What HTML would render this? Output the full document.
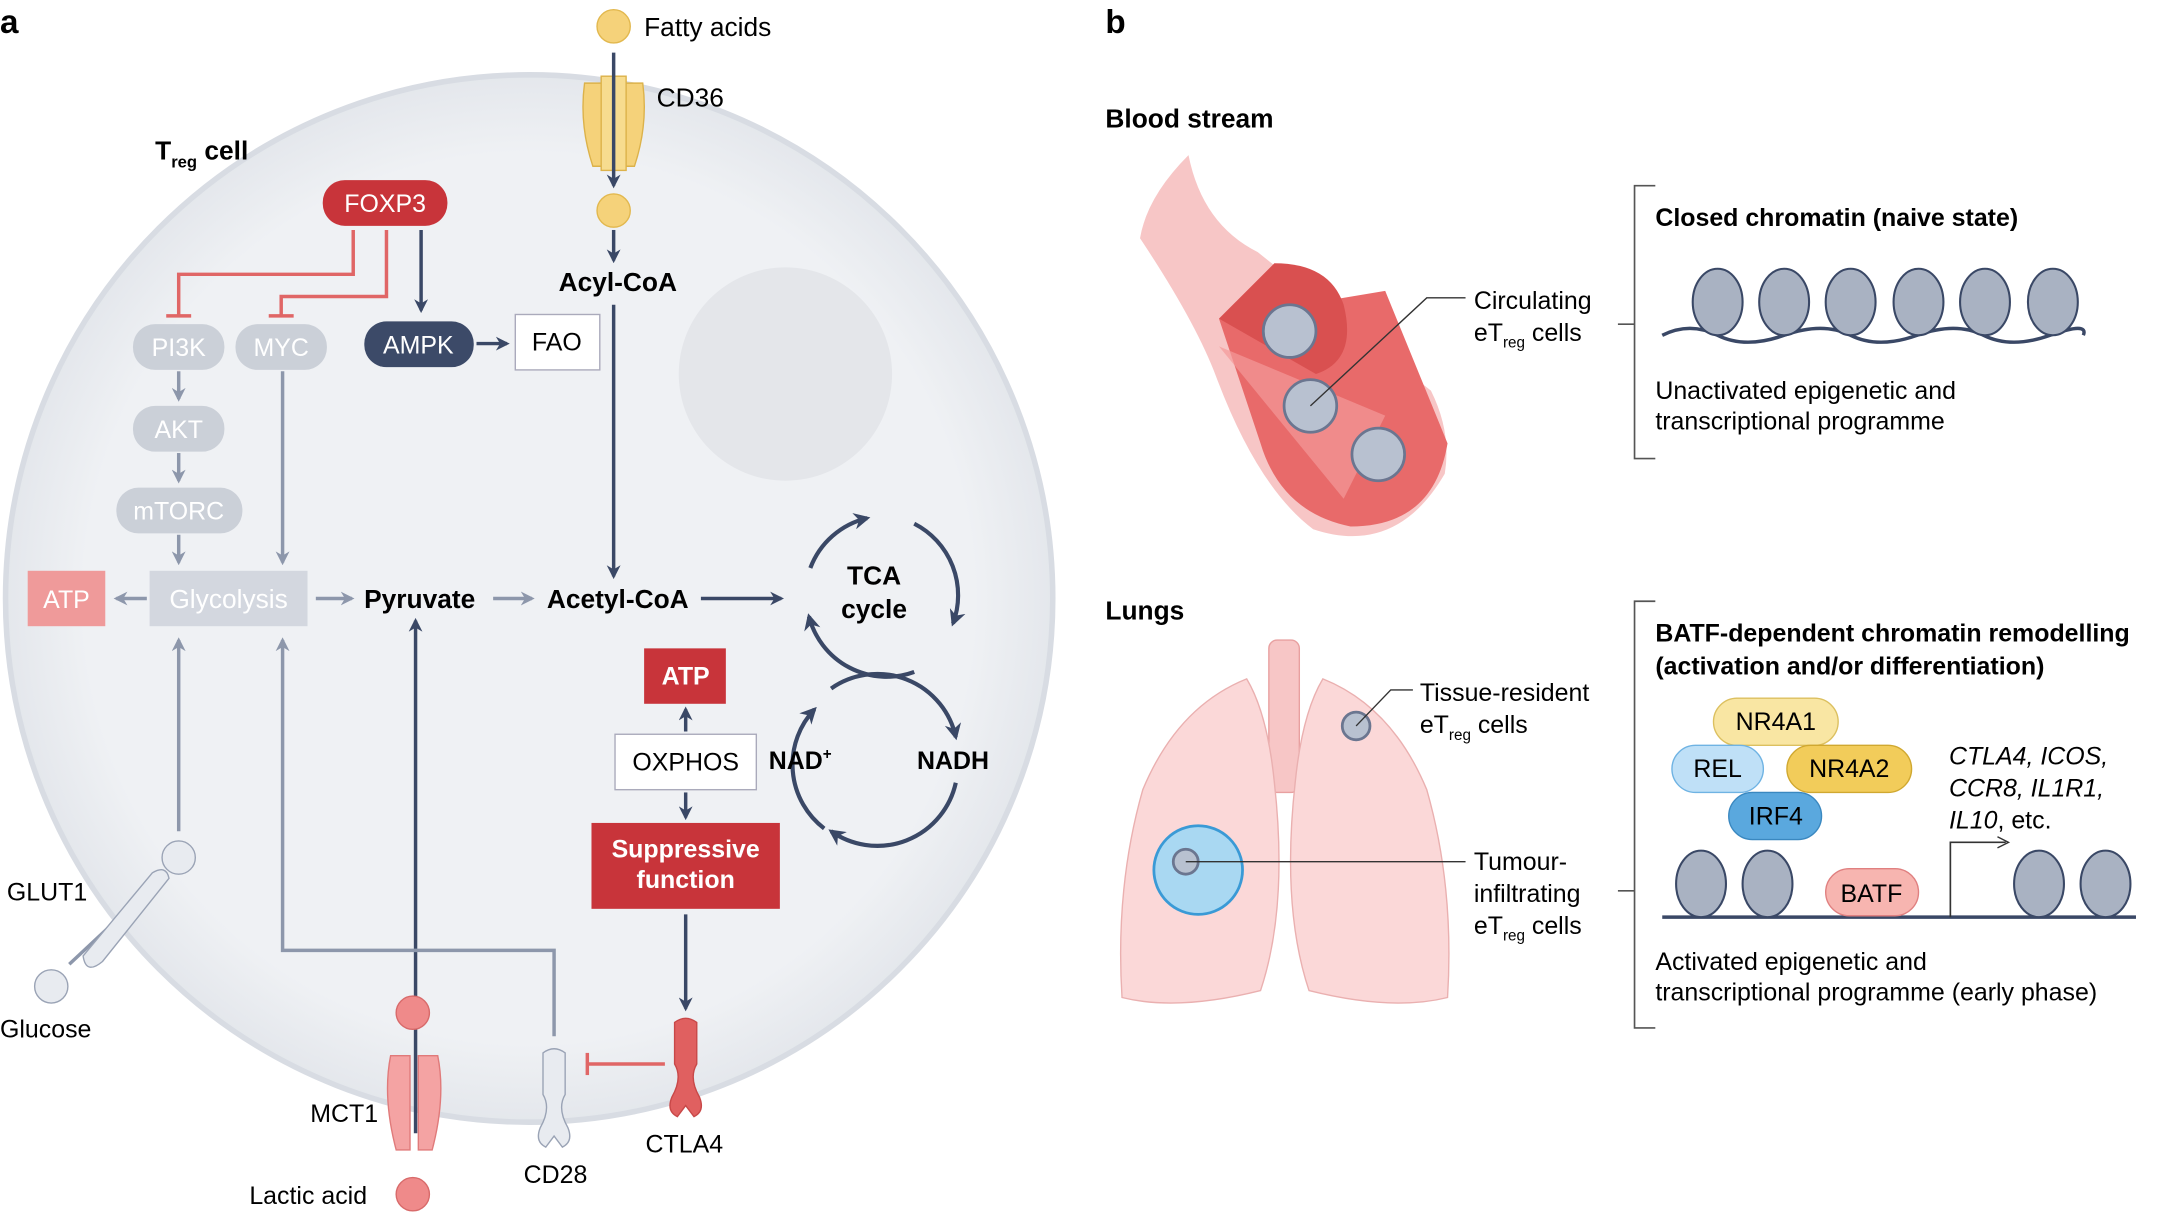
<!DOCTYPE html>
<html><head><meta charset="utf-8"><style>
html,body{margin:0;padding:0;background:#fff}
svg{display:block}
text{font-family:"Liberation Sans",sans-serif}
</style></head><body>
<svg width="2172" height="1215" viewBox="0 0 1568 877" preserveAspectRatio="none" xmlns="http://www.w3.org/2000/svg">
<defs>
<marker id="ag" viewBox="0 0 10 10" refX="8" refY="5" markerWidth="4" markerHeight="4" orient="auto"><path d="M0,0L10,5L0,10L3,5z" fill="#8d97ab"/></marker>
<marker id="ad" viewBox="0 0 10 10" refX="8" refY="5" markerWidth="4" markerHeight="4" orient="auto"><path d="M0,0L10,5L0,10L3,5z" fill="#3a4866"/></marker>
<radialGradient id="cell" cx="0.5" cy="0.5" r="0.5"><stop offset="0.85" stop-color="#eff1f4"/><stop offset="1" stop-color="#e4e7ec"/></radialGradient>
</defs>
<text x="0" y="24" font-size="24" font-weight="bold">a</text>
<text x="798" y="24" font-size="24" font-weight="bold">b</text>
<circle cx="382" cy="432" r="378" fill="url(#cell)" stroke="#d8dce3" stroke-width="4"/>
<circle cx="567" cy="270" r="77" fill="#e4e6ea"/>
<text x="112" y="115" font-size="19" font-weight="bold">T<tspan font-size="12" dy="6">reg</tspan><tspan dy="-6"> cell</tspan></text>
<circle cx="443" cy="19" r="12" fill="#f5d27a" stroke="#e2b84e"/>
<text x="465" y="26" font-size="19">Fatty acids</text>
<path d="M422,60 q-4,30 6,60 h8 v-60z M464,60 q4,30 -6,60 h-8 v-60z" fill="#f5d27a" stroke="#dcb24a"/>
<rect x="434" y="55" width="18" height="68" fill="#f7dc8f" stroke="#dcb24a"/>
<text x="474" y="77" font-size="19">CD36</text>
<circle cx="443" cy="152" r="12" fill="#f5d27a" stroke="#e2b84e"/>
<g stroke="#3a4866" stroke-width="2.5" fill="none" marker-end="url(#ad)">
<line x1="443" y1="38" x2="443" y2="134"/>
<line x1="443" y1="166" x2="443" y2="188"/>
<line x1="443" y1="220" x2="443" y2="416"/>
<line x1="304" y1="166" x2="304" y2="224"/>
<line x1="344" y1="248" x2="366" y2="248"/>
<line x1="506" y1="432" x2="564" y2="432"/>
<line x1="300" y1="818" x2="300" y2="448"/>
<line x1="495" y1="528" x2="495" y2="512"/>
<line x1="495" y1="572" x2="495" y2="590"/>
<line x1="495" y1="660" x2="495" y2="728"/>
</g>
<text x="446" y="210" font-size="19" font-weight="bold" text-anchor="middle">Acyl-CoA</text>
<g stroke="#e06666" stroke-width="2.5" fill="none">
<path d="M255,166 v32 h-126 v30"/><path d="M120,228 h18"/>
<path d="M279,166 v48 h-76 v14"/><path d="M194,228 h18"/>
</g>
<rect x="233" y="130" width="90" height="33" rx="16" fill="#c8343a"/>
<text x="278" y="153" font-size="18" fill="#fff" text-anchor="middle">FOXP3</text>
<rect x="96" y="234" width="66" height="33" rx="16" fill="#cbd0d8"/>
<text x="129" y="257" font-size="18" fill="#fff" text-anchor="middle">PI3K</text>
<rect x="170" y="234" width="66" height="33" rx="16" fill="#cbd0d8"/>
<text x="203" y="257" font-size="18" fill="#fff" text-anchor="middle">MYC</text>
<rect x="263" y="232" width="79" height="33" rx="16" fill="#3c4a68"/>
<text x="302" y="255" font-size="18" fill="#fff" text-anchor="middle">AMPK</text>
<rect x="372" y="227" width="61" height="40" fill="#fff" stroke="#aab"/>
<text x="402" y="253" font-size="18" text-anchor="middle">FAO</text>
<rect x="96" y="293" width="66" height="33" rx="16" fill="#cbd0d8"/>
<text x="129" y="316" font-size="18" fill="#fff" text-anchor="middle">AKT</text>
<rect x="84" y="352" width="91" height="33" rx="16" fill="#cbd0d8"/>
<text x="129" y="375" font-size="18" fill="#fff" text-anchor="middle">mTORC</text>
<g stroke="#8d97ab" stroke-width="2.5" fill="none" marker-end="url(#ag)">
<line x1="129" y1="268" x2="129" y2="288"/>
<line x1="129" y1="327" x2="129" y2="347"/>
<line x1="129" y1="386" x2="129" y2="406"/>
<line x1="204" y1="268" x2="204" y2="406"/>
<line x1="106" y1="432" x2="84" y2="432"/>
<line x1="228" y1="432" x2="254" y2="432"/>
<line x1="356" y1="432" x2="384" y2="432"/>
<line x1="129" y1="600" x2="129" y2="462"/>
<path d="M400,748 v-62 h-196 v-224"/>
<line x1="50" y1="696" x2="110" y2="640"/>
</g>
<rect x="20" y="412" width="56" height="40" fill="#ef9a9a"/>
<text x="48" y="439" font-size="18" fill="#fff" text-anchor="middle">ATP</text>
<rect x="108" y="412" width="114" height="40" fill="#d3d7df"/>
<text x="165" y="439" font-size="19" fill="#fff" text-anchor="middle">Glycolysis</text>
<text x="303" y="439" font-size="19" font-weight="bold" text-anchor="middle">Pyruvate</text>
<text x="446" y="439" font-size="19" font-weight="bold" text-anchor="middle">Acetyl-CoA</text>
<g stroke="#3a4866" stroke-width="3" fill="none" marker-end="url(#ad)">
<path d="M660,378 A58,58 0 0 1 688,450"/>
<path d="M660,485 A58,58 0 0 1 584,445"/>
<path d="M585,410 A58,58 0 0 1 626,374"/>
<path d="M600,497 A58,58 0 0 1 690,532"/>
<path d="M690,565 A58,58 0 0 1 600,600"/>
<path d="M595,598 A58,58 0 0 1 588,512"/>
</g>
<text x="631" y="422" font-size="19" font-weight="bold" text-anchor="middle">TCA</text>
<text x="631" y="446" font-size="19" font-weight="bold" text-anchor="middle">cycle</text>
<text x="555" y="555" font-size="18" font-weight="bold">NAD<tspan font-size="11" dy="-7">+</tspan></text>
<text x="662" y="555" font-size="18" font-weight="bold">NADH</text>
<rect x="465" y="468" width="59" height="40" fill="#c8343a"/>
<text x="495" y="494" font-size="18" font-weight="bold" fill="#fff" text-anchor="middle">ATP</text>
<rect x="444" y="530" width="102" height="40" fill="#fff" stroke="#aab"/>
<text x="495" y="556" font-size="18" text-anchor="middle">OXPHOS</text>
<rect x="427" y="594" width="136" height="62" fill="#c8343a"/>
<text x="495" y="619" font-size="18" font-weight="bold" fill="#fff" text-anchor="middle">Suppressive</text>
<text x="495" y="641" font-size="18" font-weight="bold" fill="#fff" text-anchor="middle">function</text>
<circle cx="129" cy="619" r="12" fill="#e8ebf0" stroke="#9aa3b5"/>
<path d="M60,690 l50,-60 q10,-6 12,4 l-48,60 q-12,10 -14,-4z" fill="#e8ebf0" stroke="#9aa3b5"/>
<circle cx="37" cy="712" r="12" fill="#e8ebf0" stroke="#9aa3b5"/>
<text x="5" y="650" font-size="18">GLUT1</text>
<text x="0" y="749" font-size="18">Glucose</text>
<circle cx="298" cy="731" r="12" fill="#ef8a8a" stroke="#d86a6a"/>
<path d="M282,762 q-6,30 4,68 h10 v-68z M316,762 q6,30 -4,68 h-10 v-68z" fill="#f4a3a3" stroke="#e07a7a"/>
<text x="224" y="810" font-size="18">MCT1</text>
<circle cx="298" cy="862" r="12" fill="#ef8a8a" stroke="#d86a6a"/>
<text x="180" y="869" font-size="18">Lactic acid</text>
<path d="M392,760 q8,-6 16,0 v30 q-6,10 2,24 q4,10 -4,14 l-6,-8 l-6,8 q-8,-4 -4,-14 q8,-14 2,-24z" fill="#e8ebf0" stroke="#9aa3b5"/>
<text x="378" y="854" font-size="18">CD28</text>
<path d="M487,738 q8,-6 16,0 v30 q-6,10 2,24 q4,10 -4,14 l-6,-8 l-6,8 q-8,-4 -4,-14 q8,-14 2,-24z" fill="#e06060" stroke="#c84848"/>
<g stroke="#e06666" stroke-width="2.5"><line x1="424" y1="768" x2="480" y2="768"/><line x1="424" y1="760" x2="424" y2="776"/></g>
<text x="466" y="832" font-size="18">CTLA4</text>

<text x="798" y="92" font-size="19" font-weight="bold">Blood stream</text>
<text x="798" y="447" font-size="19" font-weight="bold">Lungs</text>
<path d="M858,112 q-30,30 -35,60 q40,60 55,100 q30,80 70,110 q60,20 95,-40 q5,-30 -10,-60 l-125,-100 q-40,-20 -50,-70z" fill="#f7c6c6"/>
<path d="M880,230 l120,-20 l45,110 q-10,60 -70,60 q-50,-10 -65,-60z" fill="#e86a6a"/>
<path d="M880,230 l40,-40 q40,0 50,30 q10,40 -20,50z" fill="#d95050"/>
<path d="M880,250 l90,110 l30,-60 z" fill="#f39a9a" opacity="0.7"/>
<circle cx="931" cy="239" r="19" fill="#b8c1d0" stroke="#6b7690" stroke-width="2"/>
<circle cx="946" cy="293" r="19" fill="#b8c1d0" stroke="#6b7690" stroke-width="2"/>
<circle cx="995" cy="328" r="19" fill="#b8c1d0" stroke="#6b7690" stroke-width="2"/>
<path d="M946,293 L1030,215 H1058" stroke="#333" fill="none"/>
<text x="1064" y="223" font-size="18">Circulating</text>
<text x="1064" y="246" font-size="18">eT<tspan font-size="11" dy="5">reg</tspan><tspan dy="-5"> cells</tspan></text>
<rect x="916" y="462" width="22" height="110" rx="6" fill="#f7c6c6" stroke="#e8a0a0"/>
<path d="M900,490 q-50,20 -75,80 q-20,70 -15,150 q40,10 100,-5 q20,-60 10,-150 q-5,-50 -20,-75z" fill="#fbd8d8" stroke="#eab0b0"/>
<path d="M955,490 q50,20 75,80 q20,70 15,150 q-40,10 -100,-5 q-20,-60 -10,-150 q5,-50 20,-75z" fill="#fbd8d8" stroke="#eab0b0"/>
<circle cx="865" cy="628" r="32" fill="#a9d8f2" stroke="#3a9ad6" stroke-width="2"/>
<circle cx="856" cy="622" r="9" fill="#b8c1d0" stroke="#6b7690" stroke-width="2"/>
<circle cx="979" cy="524" r="10" fill="#b8c1d0" stroke="#6b7690" stroke-width="2"/>
<path d="M979,524 L1004,498 H1020 M856,622 H1058" stroke="#333" fill="none"/>
<text x="1025" y="506" font-size="18">Tissue-resident</text>
<text x="1025" y="529" font-size="18">eT<tspan font-size="11" dy="5">reg</tspan><tspan dy="-5"> cells</tspan></text>
<text x="1064" y="628" font-size="18">Tumour-</text>
<text x="1064" y="651" font-size="18">infiltrating</text>
<text x="1064" y="674" font-size="18">eT<tspan font-size="11" dy="5">reg</tspan><tspan dy="-5"> cells</tspan></text>
<g stroke="#555" stroke-width="1.2" fill="none">
<path d="M1195,134 H1180 V331 H1195 M1168,234 H1180"/>
<path d="M1195,434 H1180 V742 H1195 M1168,643 H1180"/>
</g>
<text x="1195" y="163" font-size="18" font-weight="bold">Closed chromatin (naive state)</text>
<path d="M1200,242 q20,-10 40,0 t48,0 t48,0 t48,0 t48,0 t48,0 t24,0" stroke="#3a4866" stroke-width="2.5" fill="none"/>
<g fill="#a9b2c2" stroke="#3a4866" stroke-width="1.5">
<ellipse cx="1240" cy="218" rx="18" ry="24"/><ellipse cx="1288" cy="218" rx="18" ry="24"/><ellipse cx="1336" cy="218" rx="18" ry="24"/>
<ellipse cx="1385" cy="218" rx="18" ry="24"/><ellipse cx="1433" cy="218" rx="18" ry="24"/><ellipse cx="1482" cy="218" rx="18" ry="24"/>
</g>
<text x="1195" y="288" font-size="18">Unactivated epigenetic and</text>
<text x="1195" y="310" font-size="18">transcriptional programme</text>
<text x="1195" y="463" font-size="18" font-weight="bold">BATF-dependent chromatin remodelling</text>
<text x="1195" y="487" font-size="18" font-weight="bold">(activation and/or differentiation)</text>
<rect x="1237" y="504" width="90" height="34" rx="17" fill="#f9e6a3" stroke="#dcc060"/>
<text x="1282" y="527" font-size="18" text-anchor="middle">NR4A1</text>
<rect x="1207" y="538" width="66" height="34" rx="17" fill="#bfe0f7" stroke="#6fb3e3"/>
<text x="1240" y="561" font-size="18" text-anchor="middle">REL</text>
<rect x="1290" y="538" width="90" height="34" rx="17" fill="#f2cc5a" stroke="#d0a830"/>
<text x="1335" y="561" font-size="18" text-anchor="middle">NR4A2</text>
<rect x="1248" y="572" width="67" height="34" rx="17" fill="#5aa8de" stroke="#3a88c0"/>
<text x="1282" y="595" font-size="18" text-anchor="middle">IRF4</text>
<text x="1407" y="552" font-size="18" font-style="italic">CTLA4, ICOS,</text>
<text x="1407" y="575" font-size="18" font-style="italic">CCR8, IL1R1,</text>
<text x="1407" y="598" font-size="18"><tspan font-style="italic">IL10</tspan>, etc.</text>
<path d="M1200,662 H1542" stroke="#3a4866" stroke-width="2.5"/>
<path d="M1408,662 V608 H1448" stroke="#333" stroke-width="1.2" fill="none"/>
<path d="M1442,604 l8,4 l-8,4" stroke="#333" fill="none"/>
<g fill="#a9b2c2" stroke="#3a4866" stroke-width="1.5">
<ellipse cx="1228" cy="638" rx="18" ry="24"/><ellipse cx="1276" cy="638" rx="18" ry="24"/>
<ellipse cx="1472" cy="638" rx="18" ry="24"/><ellipse cx="1520" cy="638" rx="18" ry="24"/>
</g>
<rect x="1318" y="627" width="67" height="34" rx="17" fill="#f7b5b0" stroke="#e08080"/>
<text x="1351" y="651" font-size="18" text-anchor="middle">BATF</text>
<text x="1195" y="700" font-size="18">Activated epigenetic and</text>
<text x="1195" y="722" font-size="18">transcriptional programme (early phase)</text>
</svg>
</body></html>
